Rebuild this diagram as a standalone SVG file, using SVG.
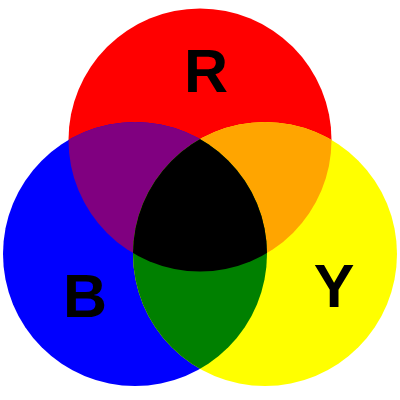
<svg xmlns="http://www.w3.org/2000/svg" width="400" height="400" viewBox="0 0 400 400">
  <defs>
    <clipPath id="clipR"><circle cx="200" cy="140" r="131.5"/></clipPath>
    <clipPath id="clipB"><circle cx="135" cy="254" r="132"/></clipPath>
    <clipPath id="clipY"><circle cx="265" cy="254" r="132"/></clipPath>
  </defs>
  <style>
    .lbl { font-family: "Liberation Sans", Arial, sans-serif; font-weight: bold; font-size: 61px; fill: #000; text-anchor: middle; }
  </style>
  <rect width="400" height="400" fill="#fff"/>
  <g id="red"><circle cx="200" cy="140" r="131.5" fill="#FF0000"/></g>
  <g id="blue"><circle cx="135" cy="254" r="132" fill="#0000FF"/></g>
  <g id="yellow"><circle cx="265" cy="254" r="132" fill="#FFFF00"/></g>
  <g id="purple" clip-path="url(#clipR)"><circle cx="135" cy="254" r="132" fill="#800080"/></g>
  <g id="orange" clip-path="url(#clipR)"><circle cx="265" cy="254" r="132" fill="#FFA500"/></g>
  <g id="green" clip-path="url(#clipY)"><circle cx="135" cy="254" r="132" fill="#008000"/></g>
  <g id="black" clip-path="url(#clipR)"><g clip-path="url(#clipY)"><circle cx="135" cy="254" r="132" fill="#000000"/></g></g>
  <g id="labels">
    <text class="lbl" x="206" y="92">R</text>
    <text class="lbl" x="85" y="317">B</text>
    <text class="lbl" x="334" y="307">Y</text>
  </g>
</svg>
